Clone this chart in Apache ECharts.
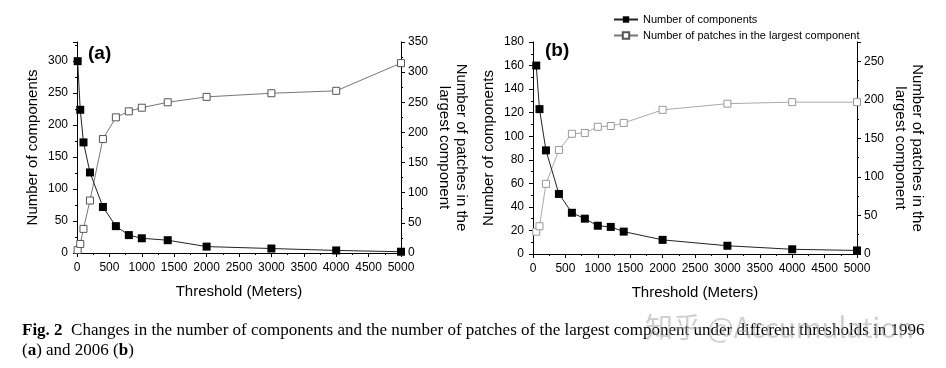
<!DOCTYPE html>
<html>
<head>
<meta charset="utf-8">
<script src="https://cdn.jsdelivr.net/npm/echarts@6/dist/echarts.min.js"></script>
<style>
html,body{margin:0;padding:0;background:#fff;}
#c{width:946px;height:368px;}
</style>
</head>
<body>
<div id="c"></div>
<script>
// ---- data ----
var thresholdsA = [10, 50, 100, 200, 400, 600, 800, 1000, 1400, 2000, 3000, 4000, 5000];
var componentsA = [300, 224, 173, 126, 72, 42, 28, 23, 20, 10, 7, 4, 2];
var patchesA    = [5, 15, 40, 87, 189, 225, 235, 241, 250, 259, 265, 269, 315];

var thresholdsB = [50, 100, 200, 400, 600, 800, 1000, 1200, 1400, 2000, 3000, 4000, 5000];
var componentsB = [160, 123, 88, 51, 35, 30, 24, 23, 19, 12, 7, 4, 3];
var patchesB    = [29, 36, 91, 135, 156, 157, 165, 166, 170, 187, 195, 197, 197];

var xTicks = [0, 500, 1000, 1500, 2000, 2500, 3000, 3500, 4000, 4500, 5000];

var seriesNames = ['Number of components', 'Number of patches in the largest component'];
var xName = 'Threshold (Meters)';
var yLeftName = 'Number of components';
var yRightName = 'Number of patches in the\nlargest component';

function pairs(xs, ys) { return xs.map(function (x, i) { return [x, ys[i]]; }); }

var FONT = 'Liberation Sans, Arial, sans-serif';
function plain(v) { return String(v); }
function lab(extra) { return Object.assign({ color: '#000', fontSize: 12, fontFamily: FONT, formatter: plain }, extra); }
var axisCommon = {
  axisLine: { show: true, lineStyle: { color: '#000', width: 1 } },
  axisTick: { show: true, length: 4, lineStyle: { color: '#000' } },
  minorTick: { show: true, splitNumber: 2, length: 2, lineStyle: { color: '#000' } },
  splitLine: { show: false },
  nameTextStyle: { color: '#000', fontSize: 15, fontFamily: FONT, lineHeight: 17 },
  nameLocation: 'middle'
};
function ax(extra) { return Object.assign({}, JSON.parse(JSON.stringify(axisCommon)), extra); }

function xAxis(grid) {
  return ax({
    type: 'value', gridIndex: grid, min: xTicks[0], max: xTicks[xTicks.length - 1], interval: xTicks[1] - xTicks[0],
    name: xName, nameGap: 30,
    axisLabel: lab({ margin: 9 })
  });
}

var blackLine = '#222';
var option = {
  animation: false,
  backgroundColor: '#fff',
  grid: [
    { left: 77, right: 545, top: 42, bottom: 115 },
    { left: 533, right: 89, top: 42, bottom: 114 }
  ],
  legend: {
    orient: 'vertical', left: 613, top: 14, padding: 0, itemWidth: 24, itemHeight: 8, itemGap: 5,
    textStyle: { color: '#000', fontSize: 11, fontFamily: FONT },
    data: seriesNames
  },
  xAxis: [xAxis(0), xAxis(1)],
  yAxis: [
    ax({ type: 'value', gridIndex: 0, position: 'left', min: 0, max: 330, interval: 50,
      name: yLeftName, nameGap: 36,
      axisLabel: lab({ margin: 9, showMaxLabel: false }) }),
    ax({ type: 'value', gridIndex: 0, position: 'right', min: 0, max: 350, interval: 50,
      name: yRightName, nameGap: 35, nameRotate: -90,
      axisLabel: lab({ margin: 7 }) }),
    ax({ type: 'value', gridIndex: 1, position: 'left', min: 0, max: 180, interval: 20,
      name: yLeftName, nameGap: 36,
      axisLabel: lab({ margin: 9 }) }),
    ax({ type: 'value', gridIndex: 1, position: 'right', min: 0, max: 275, interval: 50,
      name: yRightName, nameGap: 35, nameRotate: -90,
      axisLabel: lab({ margin: 7, showMaxLabel: false }) })
  ],
  series: [
    { name: seriesNames[0], type: 'line', xAxisIndex: 0, yAxisIndex: 0, data: pairs(thresholdsA, componentsA),
      symbol: 'rect', symbolSize: 8, lineStyle: { color: blackLine, width: 1 },
      itemStyle: { color: '#000', borderColor: '#000', borderWidth: 0 }, z: 3 },
    { name: seriesNames[1], type: 'line', xAxisIndex: 0, yAxisIndex: 1, data: pairs(thresholdsA, patchesA),
      symbol: 'rect', symbolSize: 7, lineStyle: { color: '#777', width: 1 },
      itemStyle: { color: '#fff', borderColor: '#555', borderWidth: 1 }, z: 2 },
    { name: seriesNames[0], type: 'line', xAxisIndex: 1, yAxisIndex: 2, data: pairs(thresholdsB, componentsB),
      symbol: 'rect', symbolSize: 8, lineStyle: { color: blackLine, width: 1 },
      itemStyle: { color: '#000', borderColor: '#000', borderWidth: 0 }, z: 3 },
    { name: seriesNames[1], type: 'line', xAxisIndex: 1, yAxisIndex: 3, data: pairs(thresholdsB, patchesB),
      symbol: 'rect', symbolSize: 7, lineStyle: { color: '#aaa', width: 1 },
      itemStyle: { color: '#fff', borderColor: '#999', borderWidth: 1 }, z: 2 }
  ],
  graphic: [
    { type: 'text', left: 88, top: 44, style: { text: '(a)', font: 'bold 19px ' + FONT, fill: '#000' } },
    { type: 'text', left: 545, top: 41, style: { text: '(b)', font: 'bold 19px ' + FONT, fill: '#000' } },
    { type: 'text', left: 22, top: 321, style: {
        text: '{b|Fig. 2}  Changes in the number of components and the number of patches of the largest component under different thresholds in 1996\n({b|a}) and 2006 ({b|b})',
        fontFamily: 'Liberation Serif, Times New Roman, serif', fontSize: 17, fill: '#000', lineHeight: 20,
        rich: { b: { fontWeight: 'bold', fontFamily: 'Liberation Serif, Times New Roman, serif', fontSize: 17 } }
    } },
    { type: 'text', left: 645, top: 313, style: { text: '知乎 @Accumulation', font: '28px "Noto Sans CJK SC", sans-serif', fill: 'rgba(160,160,160,0.5)' } }
  ]
};
echarts.init(document.getElementById('c'), null, { renderer: 'canvas' }).setOption(option);
</script>
</body>
</html>
